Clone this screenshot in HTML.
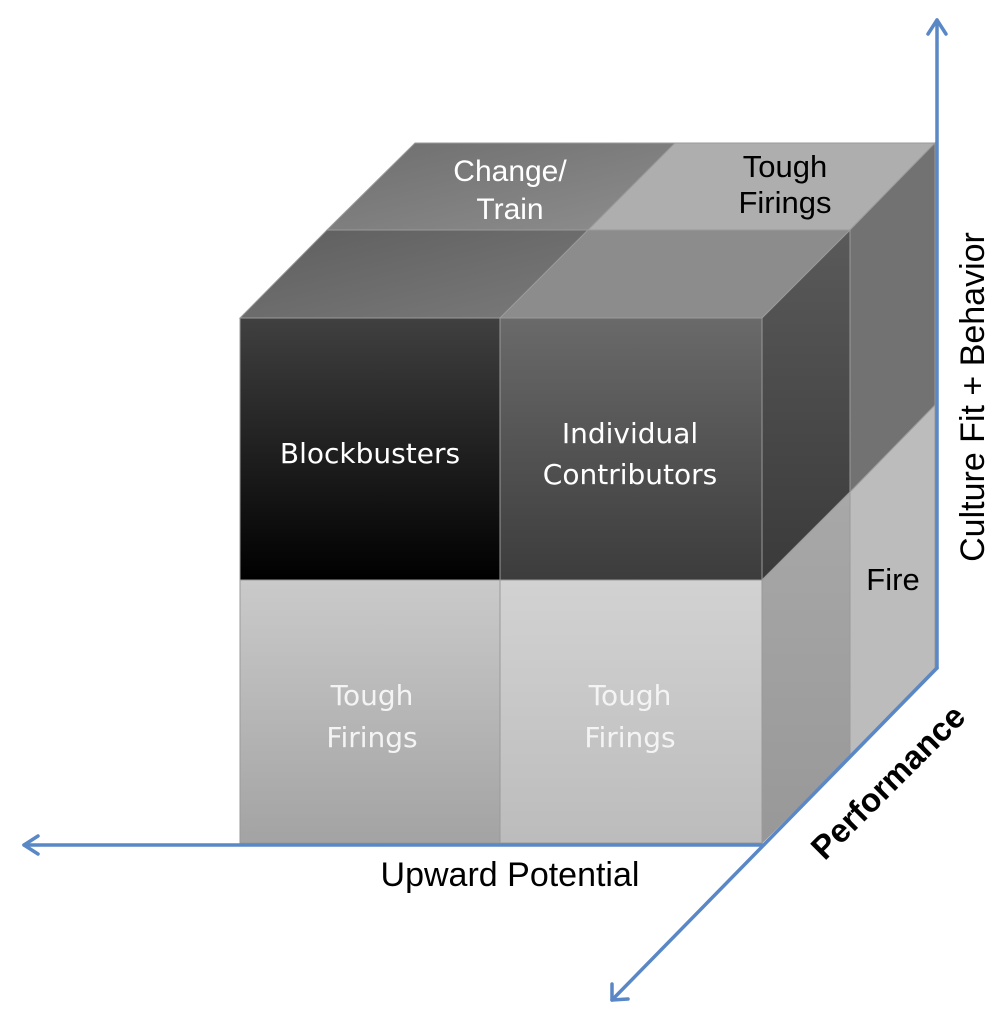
<!DOCTYPE html>
<html><head><meta charset="utf-8"><style>html,body{margin:0;padding:0;background:#fff}svg{display:block}</style></head>
<body>
<svg width="1000" height="1030" viewBox="0 0 1000 1030" xmlns="http://www.w3.org/2000/svg">
<defs>
<linearGradient id="gBlack" x1="0" y1="0" x2="0" y2="1"><stop offset="0" stop-color="#404040"/><stop offset="1" stop-color="#000"/></linearGradient>
<linearGradient id="gDark" x1="0" y1="0" x2="0" y2="1"><stop offset="0" stop-color="#6a6a6a"/><stop offset="1" stop-color="#3c3c3c"/></linearGradient>
<linearGradient id="gLL" x1="0" y1="0" x2="0" y2="1"><stop offset="0" stop-color="#cacaca"/><stop offset="1" stop-color="#a3a3a3"/></linearGradient>
<linearGradient id="gLR" x1="0" y1="0" x2="0" y2="1"><stop offset="0" stop-color="#d2d2d2"/><stop offset="1" stop-color="#bcbcbc"/></linearGradient>
<linearGradient id="gTopBL" x1="0" y1="0" x2="1" y2="1"><stop offset="0" stop-color="#6e6e6e"/><stop offset="1" stop-color="#8e8e8e"/></linearGradient>
<linearGradient id="gTopFL" x1="0" y1="0" x2="1" y2="1"><stop offset="0" stop-color="#5e5e5e"/><stop offset="1" stop-color="#7a7a7a"/></linearGradient>
<linearGradient id="gSideUF" x1="0" y1="0" x2="0" y2="1"><stop offset="0" stop-color="#5a5a5a"/><stop offset="1" stop-color="#3a3a3a"/></linearGradient>
<linearGradient id="gSideLF" x1="0" y1="0" x2="0" y2="1"><stop offset="0" stop-color="#a8a8a8"/><stop offset="1" stop-color="#989898"/></linearGradient>
</defs>
<g stroke="#9a9a9a" stroke-width="1">
<polygon points="415,143 675,143 588,230 327,230" fill="url(#gTopBL)"/>
<polygon points="675,143 935,143 850,230 588,230" fill="#aeaeae"/>
<polygon points="327,230 588,230 500,318 240,318" fill="url(#gTopFL)"/>
<polygon points="588,230 850,230 762,318 500,318" fill="#8c8c8c"/>
<polygon points="850,230 935,143 935,405 850,492" fill="#727272"/>
<polygon points="762,318 850,230 850,492 762,580" fill="url(#gSideUF)"/>
<polygon points="850,492 935,405 935,668 850,755" fill="#bcbcbc"/>
<polygon points="762,580 850,492 850,755 762,843" fill="url(#gSideLF)"/>
<rect x="240" y="318" width="260" height="262" fill="url(#gBlack)"/>
<rect x="500" y="318" width="262" height="262" fill="url(#gDark)"/>
<rect x="240" y="580" width="260" height="263" fill="url(#gLL)"/>
<rect x="500" y="580" width="262" height="263" fill="url(#gLR)"/>
</g>
<g stroke="#5a87c5" stroke-width="3.5" fill="none" stroke-linecap="round" stroke-linejoin="round">
<line x1="937" y1="668" x2="937" y2="20"/>
<polyline points="928,34 937,20 946,34"/>
<line x1="762" y1="845" x2="24" y2="845"/>
<polyline points="38,836 24,845 38,854"/>
<line x1="937" y1="668" x2="612" y2="1000"/>
<polyline points="612,984 612,1000 628,999"/>
</g>
<g font-family="'Liberation Sans', 'DejaVu Sans', sans-serif" text-anchor="middle">
<text x="510" y="181" font-size="30" fill="#fff">Change/</text>
<text x="510" y="219" font-size="30" fill="#fff">Train</text>
<text x="785" y="177" font-size="31" fill="#000">Tough</text>
<text x="785" y="213" font-size="31" fill="#000">Firings</text>
<text x="893" y="590" font-size="31" fill="#000">Fire</text>
<text x="510" y="886" font-size="34" fill="#000">Upward Potential</text>
<text x="0" y="0" font-size="34" fill="#000" transform="translate(984,397) rotate(-90)">Culture Fit + Behavior</text>
<text x="0" y="0" font-size="33" font-weight="bold" fill="#000" transform="translate(896,790) rotate(-45)">Performance</text>
</g>
<g font-family="'DejaVu Sans', 'Liberation Sans', sans-serif" text-anchor="middle" font-size="28">
<text x="370" y="463" fill="#fff">Blockbusters</text>
<text x="630" y="443" fill="#fff">Individual</text>
<text x="630" y="484" fill="#fff">Contributors</text>
<text x="372" y="705" fill="#f4f4f4">Tough</text>
<text x="372" y="747" fill="#f4f4f4">Firings</text>
<text x="630" y="705" fill="#f4f4f4">Tough</text>
<text x="630" y="747" fill="#f4f4f4">Firings</text>
</g>
</svg>
</body></html>
